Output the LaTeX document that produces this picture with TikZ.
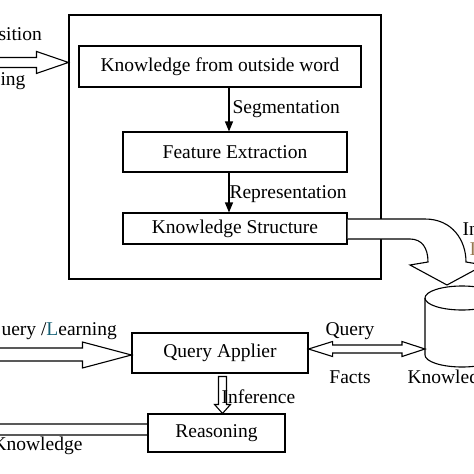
\documentclass[tikz,border=0pt]{standalone}
\usepackage{fontspec}
\setmainfont{Liberation Serif}
\usetikzlibrary{arrows.meta, positioning, calc}
\definecolor{myteal}{RGB}{20,95,115}
\definecolor{mybrown}{RGB}{150,120,80}

\begin{document}
\begin{tikzpicture}[x=1pt,y=-1pt,line width=1.1pt,
    every node/.style={font=\fontsize{19.5}{22}\selectfont,inner sep=0pt},
    box/.style={draw,minimum height=40pt,anchor=center},
    hollow/.style={draw,line join=miter},
    tip/.style={-{Triangle[length=10pt,width=8pt]}}]
    \useasboundingbox (0,0) rectangle (474,474);
    \clip (0,0) rectangle (474,474);
    % acquisition part
    \node[draw,minimum width=312pt,minimum height=264pt] (frame) at (225,147) {};
    \node[box,minimum width=282pt,minimum height=41pt] (outside) at (220,66.5) {Knowledge from outside word};
    \node[box,minimum width=224pt] (feature) at (235,152) {Feature Extraction};
    \node[box,minimum width=224pt,minimum height=31pt] (structure) at (235,228.5) {Knowledge Structure};
    \draw[tip] ([xshift=9pt]outside.south) -- ([xshift=-6pt]feature.north);
    \draw[tip] ([xshift=-6pt]feature.south) -- ([xshift=-6pt]structure.north);
    \node[anchor=base west] (seglabel) at (232,113) {Segmentation};
    \node[anchor=base west] (replabel) at (229,198) {Representation};
    % input arrow
    \coordinate (in) at ($(frame.north west)+(0,48)$);
    \draw[hollow] ($(in)+(-90,-5)$) -- ($(in)+(-32,-5)$) -- ($(in)+(-32,-11)$) -- (in)
        -- ($(in)+(-32,11)$) -- ($(in)+(-32,5)$) -- ($(in)+(-90,5)$);
    \node[anchor=base west] (acq) at (-2,40) {sition};
    \node[anchor=base west] (lrn) at (0,85) {ing};
    % knowledge base
    \draw (425,298) -- (425,355) arc[start angle=180,end angle=0,x radius=37,y radius=12] -- (499,298);
    \draw (462,298) ellipse [x radius=37,y radius=12];
    \coordinate (kb) at (425,349);
    \node[anchor=base west] (kblabel) at (407,383) {Knowled};
    % bent arrow into the base
    \draw[fill=white,line join=miter] ($(structure.east)+(0,-9.5)$) -- (425,219)
        .. controls (452,219) and (466,240) .. (466,262) -- (484,265) -- (447,285)
        -- (410,265) -- (428,262) .. controls (428,248) and (422,239) .. (410,239)
        -- ($(structure.east)+(0,10.5)$);
    \node[anchor=base west] (ins) at (462,235) {In};
    \node[anchor=base west,text=mybrown] (ins2) at (469,255) {I};
    % query part
    \node[box,minimum width=176pt] (applier) at (220,353) {Query Applier};
    \node[box,minimum width=137pt,minimum height=38pt] (reason) at (216.5,433) {Reasoning};
    \coordinate (qa) at ($(applier.east)+(0,-4)$);
    \draw[hollow] (qa) -- ($(qa)+(24,-7.5)$) -- ($(qa)+(24,-4)$) -- ($(kb)+(-23,-4)$)
        -- ($(kb)+(-23,-7.5)$) -- (kb) -- ($(kb)+(-23,7.5)$) -- ($(kb)+(-23,4)$)
        -- ($(qa)+(24,4)$) -- ($(qa)+(24,7.5)$) -- cycle;
    \node[anchor=base] (qlabel) at (350,335) {Query};
    \node[anchor=base] (flabel) at (350,383) {Facts};
    \coordinate (qin) at ($(applier.west)+(0,2)$);
    \draw[hollow] ($(qin)+(-150,-7)$) -- ($(qin)+(-49,-7)$) -- ($(qin)+(-49,-13)$) -- (qin)
        -- ($(qin)+(-49,13)$) -- ($(qin)+(-49,6)$) -- ($(qin)+(-150,6)$);
    \node[anchor=base west] (qlrn) at (1,335) {uery /\textcolor{myteal}{L}earning};
    \coordinate (inf) at ($(reason.north)+(6,0)$);
    \draw[hollow] ($(inf)+(-4,-37)$) -- ($(inf)+(-4,-9)$) -- ($(inf)+(-8,-9)$) -- (inf)
        -- ($(inf)+(8,-9)$) -- ($(inf)+(4,-9)$) -- ($(inf)+(4,-37)$) -- cycle;
    \node[anchor=base west] (inflabel) at (221,403) {Inference};
    \coordinate (out) at ($(reason.west)+(-190,-3.5)$);
    \draw[hollow] ($(reason.west)+(0,-9)$) -- ($(out)+(25,-5.5)$) -- ($(out)+(25,-11)$) -- (out)
        -- ($(out)+(25,11)$) -- ($(out)+(25,5.5)$) -- ($(reason.west)+(0,2)$);
    \node[anchor=base west] (newk) at (-8,450) {Knowledge};
\end{tikzpicture}
\end{document}
